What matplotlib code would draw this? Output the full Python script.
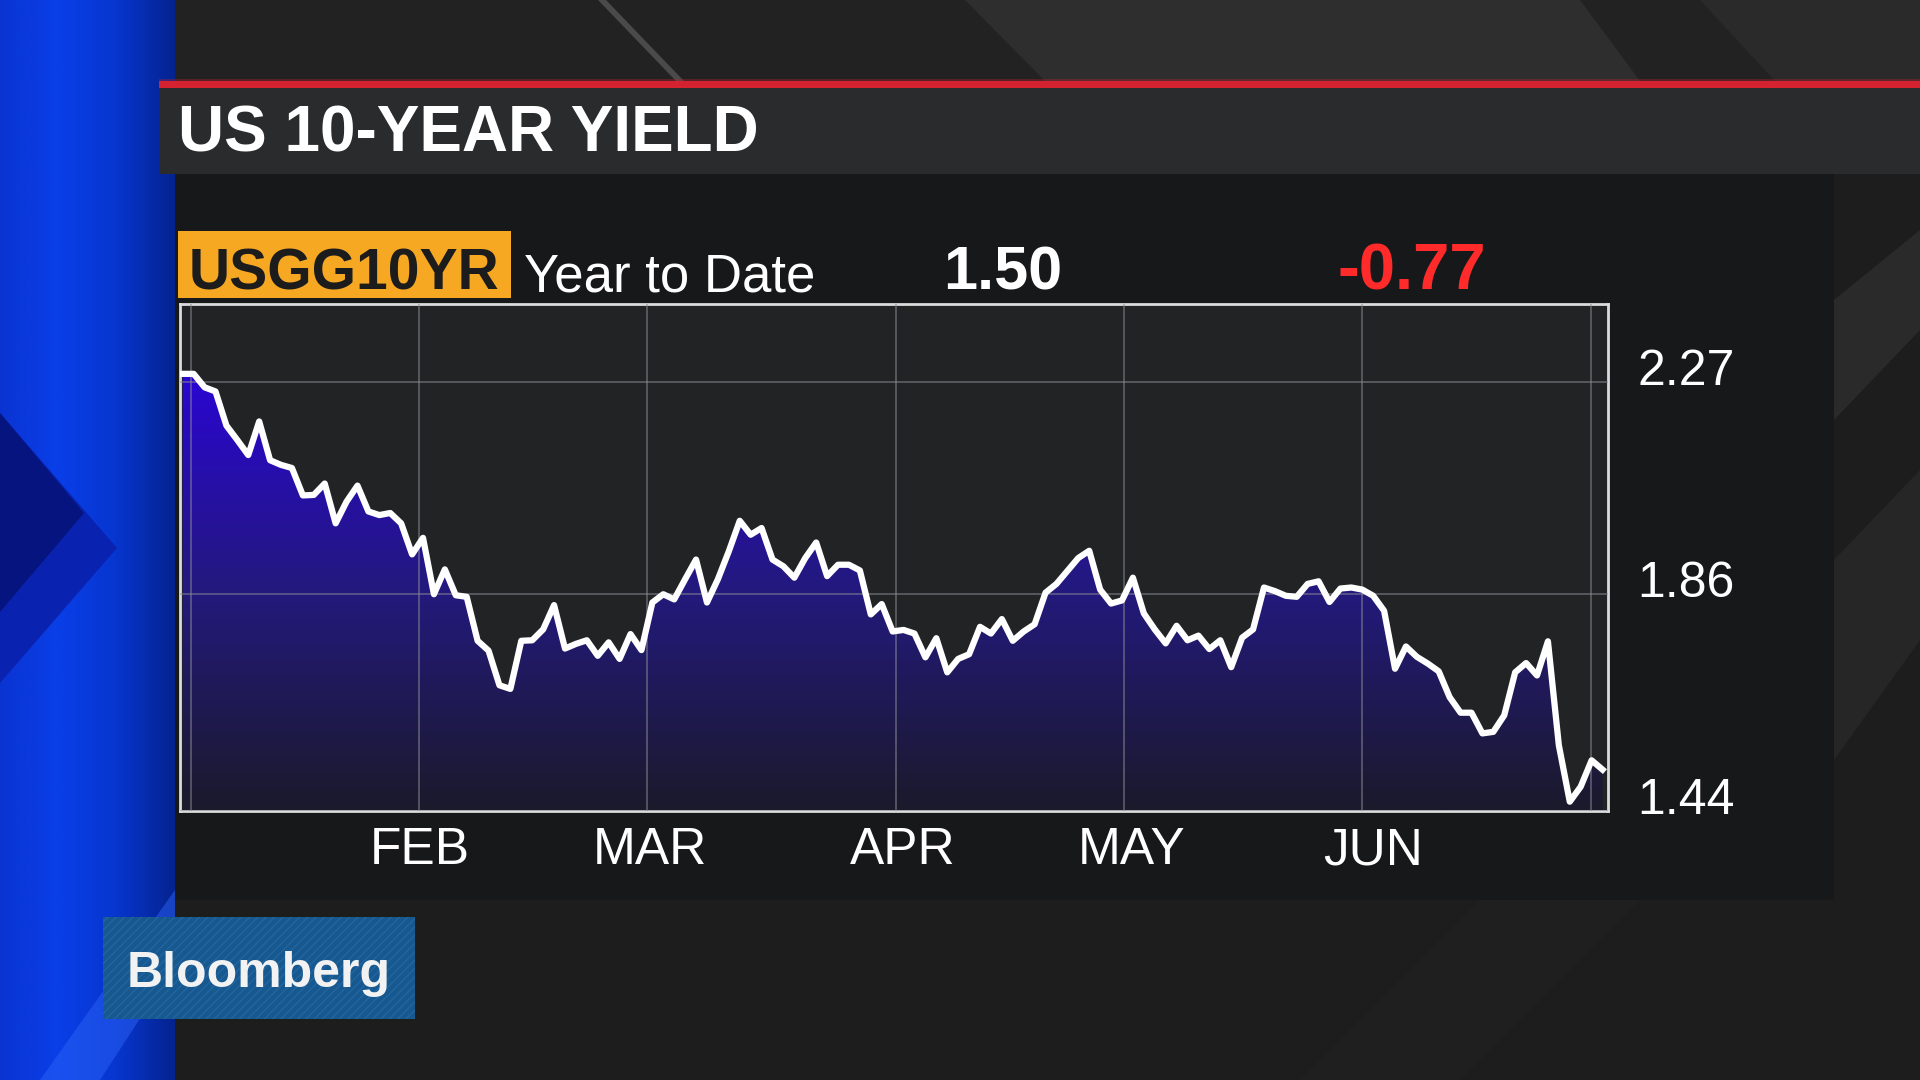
import numpy as np
import matplotlib.pyplot as plt
from matplotlib.patches import Rectangle, Polygon
from matplotlib.colors import LinearSegmentedColormap
from matplotlib.transforms import ScaledTranslation

plt.rcParams['font.family'] = ['Liberation Sans', 'DejaVu Sans']

# daily closes, 31 Dec 2015 .. end of June 2016
yield_pct = [
    2.285, 2.285, 2.259, 2.251, 2.185, 2.157, 2.128, 2.193, 2.118, 2.109,
    2.103, 2.050, 2.051, 2.073, 1.996, 2.038, 2.069, 2.019, 2.012, 2.016,
    1.996, 1.936, 1.968, 1.859, 1.907, 1.857, 1.854, 1.769, 1.750, 1.683,
    1.676, 1.769, 1.770, 1.791, 1.838, 1.754, 1.763, 1.770, 1.740, 1.766,
    1.734, 1.782, 1.751, 1.843, 1.859, 1.849, 1.888, 1.926, 1.843, 1.888,
    1.942, 2.001, 1.974, 1.987, 1.926, 1.913, 1.891, 1.929, 1.959, 1.894,
    1.916, 1.916, 1.905, 1.820, 1.840, 1.787, 1.790, 1.783, 1.737, 1.774,
    1.708, 1.734, 1.743, 1.796, 1.783, 1.811, 1.769, 1.787, 1.801, 1.862,
    1.879, 1.904, 1.929, 1.943, 1.868, 1.841, 1.847, 1.891, 1.822, 1.791,
    1.764, 1.798, 1.770, 1.779, 1.753, 1.770, 1.718, 1.775, 1.791, 1.872,
    1.865, 1.856, 1.854, 1.879, 1.884, 1.844, 1.870, 1.872, 1.868, 1.856,
    1.827, 1.715, 1.758, 1.738, 1.725, 1.710, 1.660, 1.630, 1.630, 1.590,
    1.593, 1.625, 1.708, 1.726, 1.702, 1.768, 1.567, 1.458, 1.487, 1.538,
    1.520,
]

# month boundaries (gridlines) and month label positions, in trading-day units
month_grid = [0.8, 21.6, 42.5, 65.3, 86.2, 108.0, 128.9]
month_label_pos = [21.7, 42.8, 65.9, 86.9, 109.0]
month_labels = ['FEB', 'MAR', 'APR', 'MAY', 'JUN']
y_ticks = [1.44, 1.86, 2.27]
y_tick_labels = ['1.44', '1.86', '2.27']

title = 'US 10-YEAR YIELD'
ticker = 'USGG10YR'
period = 'Year to Date'
last_value = '1.50'
change = '-0.77'

W, H = 1920, 1080
fig = plt.figure(figsize=(19.2, 10.8), dpi=100)
fig.patch.set_facecolor('#1d1d1e')

# ---- studio backdrop, drawn in pixel coordinates ----
bg = fig.add_axes([0, 0, 1, 1])
bg.axis('off')

# top strip with diagonal light bands
bg.add_patch(Rectangle((175, 0), W - 175, 81, fc='#222223', lw=0))
bg.add_patch(Polygon([(965, 0), (1580, 0), (1640, 81), (1045, 81)], fc='#2e2e2f', lw=0))
bg.add_patch(Polygon([(1700, 0), (1920, 0), (1920, 81), (1775, 81)], fc='#2a2a2b', lw=0))
bg.add_patch(Polygon([(598, 0), (606, 0), (684, 81), (676, 81)], fc='#4a4a4b', lw=0))

# right and bottom backdrop
bg.add_patch(Polygon([(1834, 300), (1920, 230), (1920, 330), (1834, 420)], fc='#2a2a2b', lw=0))
bg.add_patch(Polygon([(1834, 560), (1920, 470), (1920, 640), (1834, 760)], fc='#262627', lw=0))
bg.add_patch(Polygon([(1300, 1080), (1480, 900), (1640, 900), (1460, 1080)], fc='#1f1f20', lw=0))

# blue side band with chevron
blue = LinearSegmentedColormap.from_list('blue', ['#0a34d2', '#0a3fe8', '#0736cf', '#05238f'])
bg.imshow(np.linspace(0, 1, 200)[None, :], cmap=blue, extent=(0, 175, H, 0), aspect='auto', zorder=1)
bg.add_patch(Polygon([(0, 413), (117, 548), (0, 683)], fc='#0a22b0', lw=0, zorder=2))
bg.add_patch(Polygon([(0, 413), (84, 513), (0, 612)], fc='#05147e', lw=0, zorder=2))
bg.add_patch(Polygon([(40, 1080), (175, 890), (175, 965), (100, 1080)], fc='#2a62f5', alpha=0.5, lw=0, zorder=2))

# red rule and title bar
bg.add_patch(Rectangle((159, 79), W - 159, 11, fc='#c0202a', alpha=0.35, lw=0, zorder=3))
bg.add_patch(Rectangle((159, 81), W - 159, 7, fc='#d42230', lw=0, zorder=3))
bg.add_patch(Rectangle((159, 88), W - 159, 86, fc='#2a2b2d', lw=0, zorder=3))
bg.text(178, 152, title, color='white', fontsize=46, fontweight='bold', zorder=4)

# chart panel
bg.add_patch(Rectangle((175, 174), 1659, 726, fc='#17181a', lw=0, zorder=3))

# header row
bg.add_patch(Rectangle((178, 231), 333, 67, fc='#f7a823', lw=0, zorder=4))
bg.text(344, 289, ticker, color='#1c1c1c', fontsize=41, fontweight='bold', ha='center', zorder=5)
bg.text(524, 291, period, color='white', fontsize=38, zorder=5)
bg.text(943, 290, last_value, color='white', fontsize=44, fontweight='bold', zorder=5)
bg.text(1338, 290, change, color='#ff2b2b', fontsize=47, fontweight='bold', zorder=5)

# Bloomberg bug
bg.add_patch(Rectangle((103, 917), 312, 102, fc='#17588f', ec='#2165a2', hatch='////', lw=0, zorder=6))
bg.text(259, 987, 'Bloomberg', color='#f2f2f2', fontsize=36, fontweight='bold', ha='center', zorder=7)

bg.set_xlim(0, W)
bg.set_ylim(H, 0)

# ---- the chart ----
ax = fig.add_axes([180 / W, 1 - 811 / H, (1608 - 180) / W, (811 - 304) / H])
ax.set_facecolor('#212325')

x = np.arange(len(yield_pct))
y = np.array(yield_pct)
ymin, ymax = 1.44, 2.42
xmin, xmax = -0.25, 130.5

fill = ax.fill_between(x, y, ymin, color='none', lw=0)
grad = LinearSegmentedColormap.from_list(
    'fill', [(0, '#1b1a2b'), (0.43, '#23197c'), (0.86, '#2a06d2'), (1, '#2e00e8')])
img = ax.imshow(np.linspace(0, 1, 400)[:, None], cmap=grad, origin='lower',
                extent=(xmin, xmax, ymin, ymax), aspect='auto', zorder=1)
img.set_clip_path(fill.get_paths()[0], transform=ax.transData)

ax.plot(x, y, color='white', lw=4.5, solid_joinstyle='round', zorder=3)

ax.set_xlim(xmin, xmax)
ax.set_ylim(ymin, ymax)
ax.set_xticks(month_grid)
ax.set_xticklabels([])
ax.set_xticks(month_label_pos, minor=True)
ax.set_xticklabels(month_labels, minor=True)
ax.set_yticks(y_ticks)
ax.set_yticklabels(y_tick_labels)
ax.yaxis.tick_right()
ax.set_axisbelow(False)
ax.grid(True, which='major', color='#8a8a94', alpha=0.55, lw=1.3)
ax.tick_params(axis='both', which='both', length=0, colors='white')
ax.tick_params(axis='x', which='minor', labelsize=37, pad=11)
ax.tick_params(axis='y', labelsize=36, pad=21)
for side in ax.spines.values():
    side.set_color('#dcdcdc')
    side.set_linewidth(2)

for lab in ax.get_yticklabels():
    lab.set_transform(lab.get_transform() + ScaledTranslation(0, 0.15, fig.dpi_scale_trans))

fig.savefig('out.png', dpi=100, facecolor=fig.get_facecolor())
